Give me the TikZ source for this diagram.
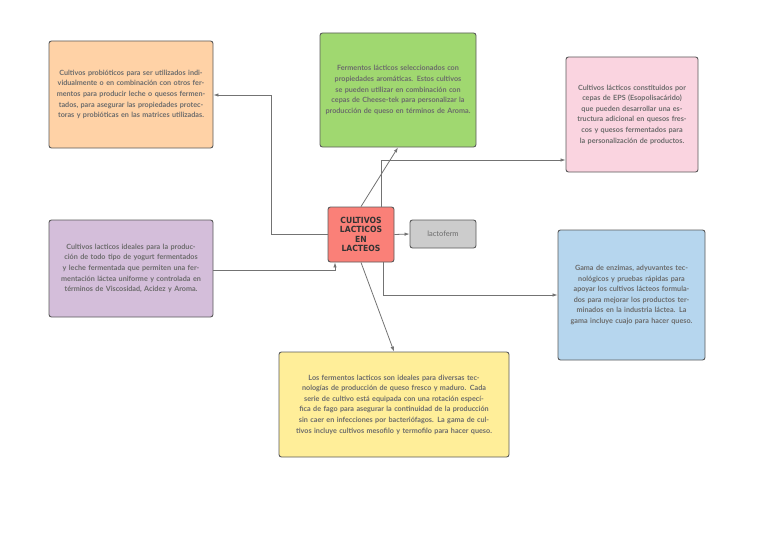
\documentclass[tikz,border=0pt]{standalone}
\usepackage{fontspec}
\setmainfont{Lato}
\newfontfamily\titlefont{DejaVu Sans Condensed}
\usetikzlibrary{arrows.meta}
\definecolor{txt}{HTML}{6B6B6B}
\definecolor{bord}{HTML}{5A5A5A}
\begin{document}
\begin{tikzpicture}[x=1pt,y=-1pt,
 box/.style={draw=bord,line width=0.9pt,rounded corners=2.5pt,text=txt,font=\fontsize{7.2}{10.6}\selectfont\bfseries,align=center,inner sep=2pt},
 conn/.style={draw=bord!85,line width=0.8pt,-{Latex[length=5pt,width=3.5pt]}}]
\useasboundingbox (0,0) rectangle (768,543);
\node[box,fill=orange!35!white,minimum width=164,minimum height=107,text width=150] (or) at (131,94.5) {Cultivos probióticos para ser utilizados individualmente o en combinación con otros fermentos para producir leche o quesos fermentados, para asegurar las propiedades protectoras y probióticas en las matrices utilizadas.};
\node[box,fill={rgb,255:red,160;green,216;blue,112},minimum width=156,minimum height=114,text width=148] (gr) at (398,90) {Fermentos lácticos seleccionados con propiedades aromáticas. Estos cultivos se pueden utilizar en combinación con cepas de Cheese-tek para personalizar la producción de queso en términos de Aroma.};
\node[box,fill={rgb,255:red,250;green,212;blue,224},minimum width=132,minimum height=115,text width=126] (pk) at (632,114.5) {Cultivos lácticos constituidos por cepas de EPS (Esopolisacárido) que pueden desarrollar una estructura adicional en quesos frescos y quesos fermentados para la personalización de productos.};
\node[box,fill={rgb,255:red,212;green,190;blue,218},minimum width=164,minimum height=97,text width=152] (pu) at (131,268.5) {Cultivos lacticos ideales para la producción de todo tipo de yogurt fermentados y leche fermentada que permiten una fermentación láctea uniforme y controlada en términos de Viscosidad, Acidez y Aroma.};
\node[box,fill={rgb,255:red,250;green,128;blue,120},minimum width=66,minimum height=55,text=black!80,font=\fontsize{8.5}{9.5}\selectfont\titlefont\bfseries] (c) at (361,234.5) {CULTIVOS\\LACTICOS\\EN\\LACTEOS};
\node[box,fill=black!20,minimum width=66,minimum height=28,font=\fontsize{7.5}{9}\selectfont] (lf) at (443,234) {lactoferm};
\node[box,fill={rgb,255:red,182;green,214;blue,238},minimum width=147,minimum height=130,text width=140] (bl) at (631.5,295) {Gama de enzimas, adyuvantes tecnológicos y pruebas rápidas para apoyar los cultivos lácteos formulados para mejorar los productos terminados en la industria láctea. La gama incluye cuajo para hacer queso.};
\node[box,fill={rgb,255:red,255;green,238;blue,153},minimum width=230,minimum height=105,text width=222] (ye) at (394,404.5) {Los fermentos lacticos son ideales para diversas tecnologías de producción de queso fresco y maduro. Cada serie de cultivo está equipada con una rotación específica de fago para asegurar la continuidad de la producción sin caer en infecciones por bacteriófagos. La gama de cultivos incluye cultivos mesofilo y termofilo para hacer queso.};
\coordinate (a1) at (271,234);
\coordinate (a2) at (271,95);
\draw[conn] (c.west |- a1) -- (a1) -- (a2) -- (or.east |- a2);
\draw[conn] (c.north) -- (gr.south);
\coordinate (b1) at (381,160);
\draw[conn] (c.north -| b1) -- (b1) -- (pk.west |- b1);
\coordinate (d1) at (335,270);
\draw[conn] (pu.east |- d1) -- (d1) -- (c.south -| d1);
\draw[conn] (c.east) -- (lf.west);
\coordinate (e1) at (383,295);
\draw[conn] (c.south -| e1) -- (e1) -- (bl.west |- e1);
\draw[conn] (c.south) -- (ye.north);
\end{tikzpicture}
\end{document}
